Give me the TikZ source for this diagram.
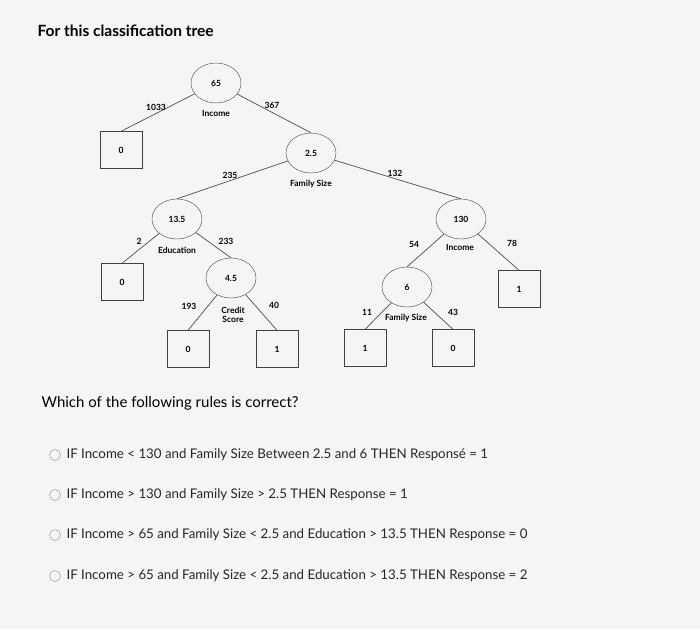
\documentclass[tikz,border=0pt]{standalone}
\usepackage{fontspec}
\setmainfont{Lato}
\usetikzlibrary{shapes.geometric}
\begin{document}
\begin{tikzpicture}[x=1pt,y=-1pt,
 split/.style={draw=black!75,ellipse,minimum width=50pt,minimum height=40pt,inner sep=0pt,font=\fontsize{8.5}{9}\selectfont\bfseries},
 leaf/.style={draw=black!75,rectangle,minimum width=42pt,minimum height=37pt,inner sep=0pt,font=\fontsize{8.5}{9}\selectfont\bfseries},
 lab/.style={font=\fontsize{8.5}{9.5}\selectfont\bfseries,inner sep=0pt,align=center},
 edge/.style={draw=black!70,line width=0.7pt},
 opt/.style={anchor=west,font=\fontsize{13.3}{15}\selectfont,text=black!85},
 radio/.style={draw=black!45,circle,minimum size=11pt,inner sep=0pt}]
\fill[black!4] (0,0) rectangle (700,629);
\useasboundingbox (0,0) rectangle (700,629);
\node[anchor=west,font=\fontsize{15.5}{17}\selectfont\bfseries] (title) at (34,31) {For this classification tree};
\node[split] (r) at (216,83) {65};
\node[leaf] (l0) at (121,150) {0};
\node[split] (f) at (311,153) {2.5};
\node[split] (e) at (177,219) {13.5};
\node[split] (i) at (461,219) {130};
\node[leaf] (l1) at (122,282) {0};
\node[split] (c) at (231,278) {4.5};
\node[split] (s) at (407,287) {6};
\node[leaf] (l2) at (519,289) {1};
\node[leaf] (l3) at (188,349) {0};
\node[leaf] (l4) at (277,349) {1};
\node[leaf] (l5) at (365,348) {1};
\node[leaf] (l6) at (453,348) {0};
\draw[edge] (r) -- (l0.north);
\draw[edge] (r) -- (f.north);
\draw[edge] (f) -- (e.north);
\draw[edge] (f) -- (i.north);
\draw[edge] (e) -- (l1.north);
\draw[edge] (e) -- (c.north);
\draw[edge] (i) -- (s.north);
\draw[edge] (i) -- (l2.north);
\draw[edge] (c) -- (l3.north);
\draw[edge] (c) -- (l4.north);
\draw[edge] (s) -- (l5.north);
\draw[edge] (s) -- (l6.north);
\node[lab] (a1) at (216,113) {Income};
\node[lab] (a2) at (156,107) {1033};
\node[lab] (a3) at (272,105) {367};
\node[lab] (a4) at (311,184) {Family Size};
\node[lab] (a5) at (230,175) {235};
\node[lab] (a6) at (395,173) {132};
\node[lab] (a7) at (177,250) {Education};
\node[lab] (a8) at (139,241) {2};
\node[lab] (a9) at (226,241) {233};
\node[lab] (a10) at (460,247) {Income};
\node[lab] (a11) at (414,244) {54};
\node[lab] (a12) at (512,243) {78};
\node[lab] (a13) at (233,315) {Credit\\Score};
\node[lab] (a14) at (189,306) {193};
\node[lab] (a15) at (274,305) {40};
\node[lab] (a16) at (406,318) {Family Size};
\node[lab] (a17) at (367,312) {11};
\node[lab] (a18) at (453,312) {43};
\node[anchor=west,font=\fontsize{15}{17}\selectfont] (q) at (38,403) {Which of the following rules is correct?};
\node[radio] (o1) at (55,455) {};
\node[opt] (t1) at (63,455) {IF Income < 130 and Family Size Between 2.5 and 6 THEN Responsé = 1};
\node[radio] (o2) at (55,495) {};
\node[opt] (t2) at (63,495) {IF Income > 130 and Family Size > 2.5 THEN Response = 1};
\node[radio] (o3) at (55,535) {};
\node[opt] (t3) at (63,535) {IF Income > 65 and Family Size < 2.5 and Education > 13.5 THEN Response = 0};
\node[radio] (o4) at (55,576) {};
\node[opt] (t4) at (63,576) {IF Income > 65 and Family Size < 2.5 and Education > 13.5 THEN Response = 2};
\end{tikzpicture}
\end{document}
